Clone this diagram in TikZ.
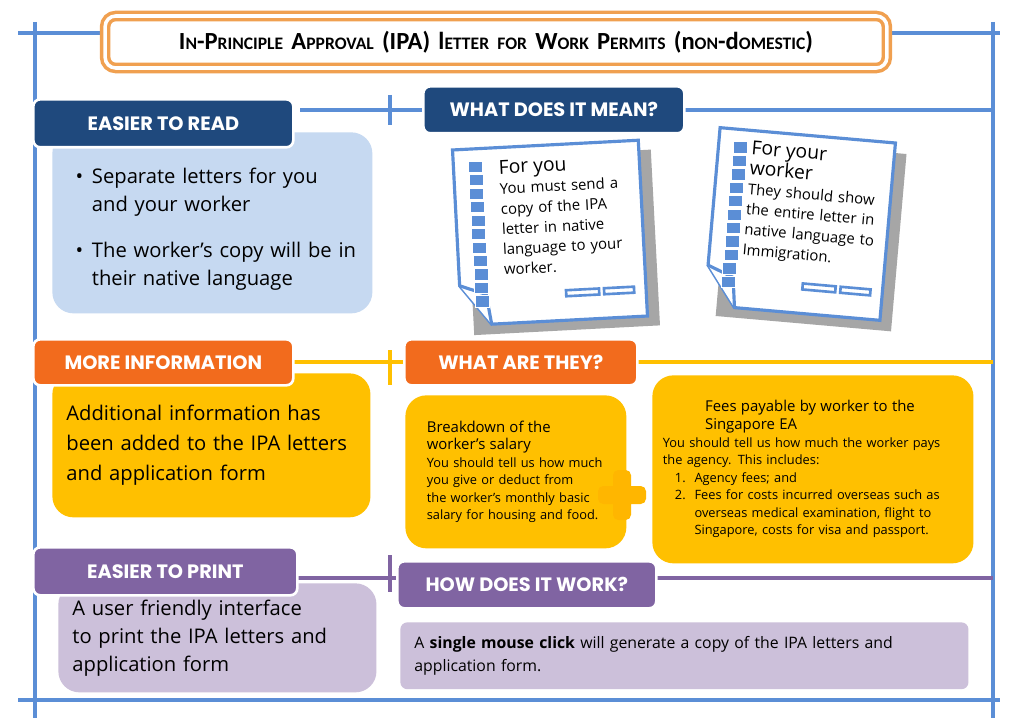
\documentclass[tikz,border=0pt]{standalone}
\usepackage{fontspec}
\setmainfont{Open Sans}
\newfontfamily\headfont{Poppins}
\newfontfamily\titlefont{Carlito}
\usepackage{enumitem}
\hyphenpenalty=10000
\exhyphenpenalty=10000
\definecolor{frameblue}{HTML}{5B8ED6}
\definecolor{darkblue}{HTML}{1F497D}
\definecolor{lightblue}{HTML}{C6D9F1}
\definecolor{hotorange}{HTML}{F26B1D}
\definecolor{amber}{HTML}{FFC000}
\definecolor{plum}{HTML}{8064A2}
\definecolor{lavender}{HTML}{CCC0DA}
\definecolor{titleorange}{HTML}{F0A050}
\newcommand\tsc[2]{#1{\fontsize{10}{12}\selectfont\MakeUppercase{#2}}}
\tikzset{
  header/.style={fill=#1, rounded corners=4pt, text=white, font=\headfont\bfseries\fontsize{11}{13}\selectfont, anchor=north west, inner sep=0pt, draw=white, line width=1.5pt},
  bodybox/.style={fill=#1, rounded corners=12pt, anchor=north west, align=left, inner sep=8pt},
  frameline/.style={draw=frameblue, line width=2.5pt},
  checkbox/.style={fill=frameblue, draw=white, line width=0.6pt, minimum width=8pt, minimum height=6.5pt, inner sep=0pt},
}
\newcommand\paper[5]{% centre x, centre y, angle, width, height
  \begin{scope}[shift={(#1,#2)}, rotate=#3]
    \fill[gray!70] (-#4/2+12,-#5/2+10) rectangle (#4/2+12,#5/2+10);
    \filldraw[fill=white, draw=frameblue, line width=1.8pt]
      (-#4/2,-#5/2) -- (#4/2,-#5/2) -- (#4/2,#5/2) -- (-#4/2+30,#5/2)
      -- (-#4/2,#5/2-40) -- cycle;
    \draw[frameblue, line width=1.8pt, fill=white] (-#4/2,#5/2-40) -- (-#4/2+26,#5/2-30) -- (-#4/2+30,#5/2);
    \foreach \k in {0,...,10}
      \node[checkbox] at (-#4/2+22,-#5/2+18+\k*13.5) {};
    \draw[frameblue, line width=1.5pt] (#4/2-80,#5/2-30) rectangle (#4/2-47,#5/2-24)
      (#4/2-42,#5/2-30) rectangle (#4/2-12,#5/2-24);
  \end{scope}}
\begin{document}
\begin{tikzpicture}[x=0.02cm, y=-0.02cm]
  \useasboundingbox (0,0) rectangle (1017,719);
  \fill[white] (0,0) rectangle (1017,719);
  % frame
  \draw[frameline] (18,33) -- (1000,33) (18,700) -- (1000,700)
    (35,22) -- (35,718) (993,22) -- (993,718);
  \draw[frameline] (300,110) -- (993,110) (390,95) -- (390,125);
  \draw[draw=amber, line width=2.5pt] (290,362) -- (993,362) (390,350) -- (390,385);
  \draw[draw=plum, line width=2.5pt] (295,578) -- (993,578) (390,555) -- (390,592);
  % title
  \node[draw=titleorange, double=white, double distance=2pt, line width=2pt, rounded corners=6pt,
        fill=white, text width=770*0.02cm, align=center,
        minimum height=52*0.02cm, font=\titlefont\bfseries\fontsize{14}{16}\selectfont] (title) at (496,42)
    {\tsc{I}{n}-\tsc{P}{rinciple} \tsc{A}{pproval} (IPA) \tsc{l}{etter for} \tsc{W}{ork} \tsc{P}{ermits} (\tsc{n}{on}-\tsc{d}{omestic})};
  % easier to read
  \node[bodybox=lightblue, minimum width=320*0.02cm, minimum height=181*0.02cm, text width=290*0.02cm,
        font=\fontsize{11.5}{16}\selectfont] (readbody) at (52,132)
    {\begin{itemize}[leftmargin=14pt, itemsep=6pt, topsep=0pt]
      \item Separate letters for you and your worker
      \item The worker's copy will be in their native language
    \end{itemize}};
  \node[header=darkblue, minimum width=260*0.02cm, minimum height=48*0.02cm] (readhead) at (32,98) {EASIER TO READ};
  % what does it mean
  \node[header=darkblue, minimum width=261*0.02cm, minimum height=47*0.02cm] (meanhead) at (422,85) {WHAT DOES IT MEAN?};
  \paper{550}{233}{3}{186}{176}
  \paper{800}{224}{-5}{176}{178}
  \node[anchor=north west, text width=135*0.02cm, align=left, font=\fontsize{8.5}{11.5}\selectfont, rotate=3, inner sep=0pt] (youtext) at (498,160)
    {{\fontsize{11}{14}\selectfont For you}\\ You must send a copy of the IPA letter in native language to your worker.};
  \node[anchor=north west, text width=140*0.02cm, align=left, font=\fontsize{8.5}{11.5}\selectfont, rotate=-5, inner sep=0pt] (workertext) at (752,140)
    {{\fontsize{11}{14}\selectfont For your\\ worker}\\ They should show the entire letter in native language to Immigration.};
  % more information
  \node[bodybox=amber, minimum width=318*0.02cm, minimum height=144*0.02cm, text width=290*0.02cm,
        font=\fontsize{11.5}{17}\selectfont] (infobody) at (52,373)
    {Additional information has been added to the IPA letters and application form};
  \node[header=hotorange, minimum width=260*0.02cm, minimum height=46*0.02cm] (infohead) at (32,338) {MORE INFORMATION};
  \node[header=hotorange, minimum width=233*0.02cm, minimum height=46*0.02cm] (whathead) at (403,338) {WHAT ARE THEY?};
  \node[bodybox=amber, minimum width=221*0.02cm, minimum height=153*0.02cm, text width=178*0.02cm,
        font=\fontsize{7.3}{10}\selectfont, inner sep=6pt] (salary) at (405,395)
    {{\fontsize{8.5}{10}\selectfont Breakdown of the\\ worker's salary}\\ You should tell us how much you give or deduct from the worker's monthly basic salary for housing and food.};
  \node[bodybox=amber, minimum width=320*0.02cm, minimum height=188*0.02cm, text width=300*0.02cm,
        font=\fontsize{7.3}{10}\selectfont, inner sep=6pt] (fees) at (652,375)
    {\hspace*{24pt}{\fontsize{8.5}{10}\selectfont Fees payable by worker to the\\ \hspace*{24pt}Singapore EA}\\ You should tell us how much the worker pays the agency. This includes:
     \begin{enumerate}[leftmargin=18pt, itemsep=0pt, topsep=0pt, parsep=0pt]
       \item Agency fees; and
       \item Fees for costs incurred overseas such as overseas medical examination, flight to Singapore, costs for visa and passport.
     \end{enumerate}};
  \fill[amber!85!orange, rounded corners=3pt] (613,470) rectangle (631,520) (598,486) rectangle (646,504);
  % easier to print
  \node[bodybox=lavender, minimum width=314*0.02cm, minimum height=109*0.02cm, text width=290*0.02cm,
        font=\fontsize{11.5}{16}\selectfont] (printbody) at (58,583)
    {A user friendly interface to print the IPA letters and application form};
  \node[header=plum, minimum width=264*0.02cm, minimum height=48*0.02cm] (printhead) at (32,546) {EASIER TO PRINT};
  \node[header=plum, minimum width=259*0.02cm, minimum height=47*0.02cm] (workhead) at (396,560) {HOW DOES IT WORK?};
  \node[bodybox=lavender, rounded corners=4pt, minimum width=560*0.02cm, minimum height=54*0.02cm, text width=540*0.02cm,
        font=\fontsize{9}{13}\selectfont] (workbody) at (400,622)
    {A \textbf{single mouse click} will generate a copy of the IPA letters and application form.};
\end{tikzpicture}
\end{document}
